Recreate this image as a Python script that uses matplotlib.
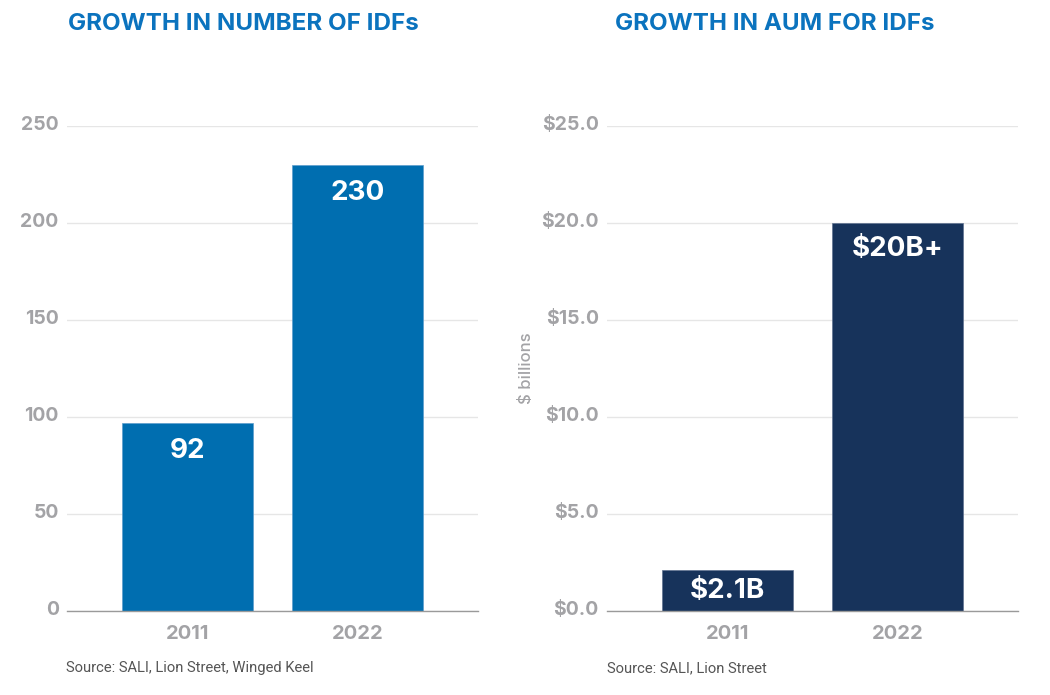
import matplotlib
matplotlib.use("Agg")
import matplotlib.pyplot as plt
import matplotlib.transforms as mtransforms
import numpy as np

# ---- data ----
years = ["2011", "2022"]
idf_counts = [97, 230]
idf_labels = ["92", "230"]
aum_values = [2.1, 20.0]
aum_labels = ["$2.1B", "$20B+"]
left_ticks = [0, 50, 100, 150, 200, 250]
right_ticks = [0, 5, 10, 15, 20, 25]
left_title = "GROWTH IN NUMBER OF IDFs"
right_title = "GROWTH IN AUM FOR IDFs"
left_source = "Source: SALI, Lion Street, Winged Keel"
right_source = "Source: SALI, Lion Street"

TITLE_C = "#0B73BE"
LEFT_BAR = "#006EB0"
RIGHT_BAR = "#17335B"
TICK_C = "#A3A3A6"
GRID_C = "#E6E6E6"
BASE_C = "#9A9A9A"
SRC_C = "#555555"
FONT = ["Inter", "DejaVu Sans"]

plt.rcParams["font.family"] = FONT

fig = plt.figure(figsize=(10.5, 6.95), dpi=100)
axL = fig.add_axes([67/1050, 1-611/695, 411/1050, 485/695])
axR = fig.add_axes([607/1050, 1-611/695, 411/1050, 485/695])

def style(ax, ticks, fmt, ymax):
    ax.set_xlim(-0.71, 1.71)
    ax.set_ylim(0, ymax)
    ax.set_yticks(ticks)
    ax.set_yticklabels([fmt(t) for t in ticks])
    ax.set_xticks(range(len(years)))
    ax.set_xticklabels(years)
    for s in ["top", "right", "left"]:
        ax.spines[s].set_visible(False)
    ax.spines["bottom"].set_color(BASE_C)
    ax.spines["bottom"].set_linewidth(1.0)
    ax.grid(axis="y", color=GRID_C, linewidth=1.0)
    ax.set_axisbelow(True)
    ax.tick_params(axis="y", length=0, pad=6, labelsize=14, labelcolor=TICK_C)
    ax.tick_params(axis="x", length=0, pad=10, labelsize=14.5, labelcolor=TICK_C)
    off = mtransforms.ScaledTranslation(0, 3/100, fig.dpi_scale_trans)
    for lab in ax.get_yticklabels():
        lab.set_fontweight("bold")
        lab.set_transform(lab.get_transform() + off)
    for lab in ax.get_xticklabels():
        lab.set_fontweight("bold")

x = np.arange(len(years))
barsL = axL.bar(x, idf_counts, width=0.77, color=LEFT_BAR, edgecolor="#5d9dcc", linewidth=0.5, zorder=2)
barsR = axR.bar(x, aum_values, width=0.77, color=RIGHT_BAR, edgecolor="#5f7290", linewidth=0.5, zorder=2)

style(axL, left_ticks, lambda t: f"{t:d}", 250)
style(axR, right_ticks, lambda t: f"${t:.1f}", 25)

for xi, v, lab in zip(x, idf_counts, idf_labels):
    axL.annotate(lab, (xi, v), xytext=(0, -20.5), textcoords="offset points",
                 ha="center", va="center", color="white", fontsize=20, fontweight="bold")

for xi, v, lab in zip(x, aum_values, aum_labels):
    if v < 5:
        axR.text(xi, v/2, lab, ha="center", va="center", color="white", fontsize=20, fontweight="bold")
    else:
        axR.annotate(lab, (xi, v), xytext=(0, -18.5), textcoords="offset points",
                     ha="center", va="center", color="white", fontsize=20, fontweight="bold")

axR.set_ylabel("$ billions", color=TICK_C, fontsize=12, fontweight="medium")
axR.yaxis.set_label_coords(-73/411, 0.50)

fig.text(68/1050, 1-24/695, left_title, color=TITLE_C, fontsize=17.4, fontweight="bold", ha="left", va="center")
fig.text(615/1050, 1-24/695, right_title, color=TITLE_C, fontsize=17.4, fontweight="bold", ha="left", va="center")

src_font = ["Roboto", "DejaVu Sans"]
fig.text(66/1050, 1-668/695, left_source, color=SRC_C, fontsize=10.6, family=src_font, ha="left", va="center")
fig.text(607/1050, 1-668/695, right_source, color=SRC_C, fontsize=10.6, family=src_font, ha="left", va="center")

fig.savefig("out.png", dpi=100)
